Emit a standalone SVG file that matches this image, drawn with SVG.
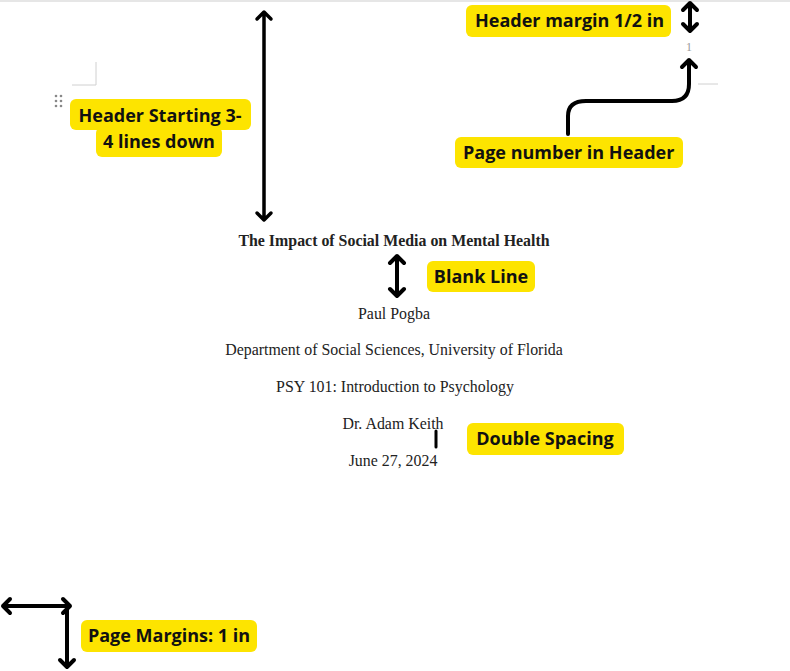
<svg xmlns="http://www.w3.org/2000/svg" width="790" height="671" viewBox="0 0 790 671">
<style>
.lb{fill:#fde400}
.lt{font-family:"Open Sans","Liberation Sans",sans-serif;font-weight:700;font-size:18px;fill:#111}
.doc{font-family:"Liberation Serif",serif;font-size:15.9px;fill:#222;text-anchor:middle}
.ar{stroke:#000;stroke-width:4;fill:none;stroke-linecap:round;stroke-linejoin:round}
</style>
<rect width="790" height="671" fill="#fff"/>
<line x1="0" y1="1" x2="790" y2="1" stroke="#e6e6e6" stroke-width="2"/>
<g id="page-marks" stroke="#d0d0d0" fill="none">
<path d="M96 62V85H72"/>
<path d="M698 84H718"/>
</g>
<g id="dots" fill="#888"><circle cx="56" cy="96" r="1.3"/><circle cx="61" cy="96" r="1.3"/><circle cx="56" cy="101" r="1.3"/><circle cx="61" cy="101" r="1.3"/><circle cx="56" cy="106" r="1.3"/><circle cx="61" cy="106" r="1.3"/></g>
<text x="689" y="51" font-family="Liberation Serif,serif" font-size="12" fill="#999" text-anchor="middle">1</text>
<g id="connectors" class="ar">
<path d="M264 12V220M257 19L264 12L271 19M257 213L264 220L271 213" stroke-width="3.5"/>
<path d="M690 3V31M683 10L690 3L697 10M683 24L690 31L697 24"/>
<path d="M568 134V116Q568 101 586 101H672Q689 101 689 84V60M682 67L689 60L696 67"/>
<path d="M397 256V296M390 263L397 256L404 263M390 289L397 296L404 289"/>
<path d="M436 431V447" stroke-width="3"/>
<path d="M3 606H70M10 599L3 606L10 613M63 599L70 606L63 613"/>
<path d="M67 606V667M60 660L67 667L74 660"/>
</g>
<g id="header-margin"><rect class="lb" x="466" y="5" width="205" height="32" rx="6"/><text class="lt" x="475" y="27">Header margin 1/2 in</text></g>
<g id="page-number"><rect class="lb" x="455" y="137" width="228" height="31" rx="6"/><text class="lt" x="463" y="159">Page number in Header</text></g>
<g id="header-start"><rect class="lb" x="70" y="99" width="181" height="31" rx="6"/><rect class="lb" x="96" y="127" width="126" height="30" rx="6"/><text class="lt" x="160" y="122" text-anchor="middle">Header Starting 3-</text><text class="lt" x="159" y="148" text-anchor="middle">4 lines down</text></g>
<g id="blank-line"><rect class="lb" x="427" y="261" width="108" height="31" rx="6"/><text class="lt" x="481" y="283" text-anchor="middle">Blank Line</text></g>
<g id="double-spacing"><rect class="lb" x="467" y="423" width="157" height="32" rx="6"/><text class="lt" x="545" y="445" text-anchor="middle">Double Spacing</text></g>
<g id="page-margins"><rect class="lb" x="81" y="620" width="176" height="32" rx="6"/><text class="lt" x="169" y="642" text-anchor="middle">Page Margins: 1 in</text></g>
<g id="doc-text">
<text class="doc" x="394" y="246" font-weight="700" font-size="15.4">The Impact of Social Media on Mental Health</text>
<text class="doc" x="394" y="319">Paul Pogba</text>
<text class="doc" x="394" y="355">Department of Social Sciences, University of Florida</text>
<text class="doc" x="395" y="392">PSY 101: Introduction to Psychology</text>
<text class="doc" x="393" y="429">Dr. Adam Keith</text>
<text class="doc" x="393" y="466">June 27, 2024</text>
</g>
</svg>
